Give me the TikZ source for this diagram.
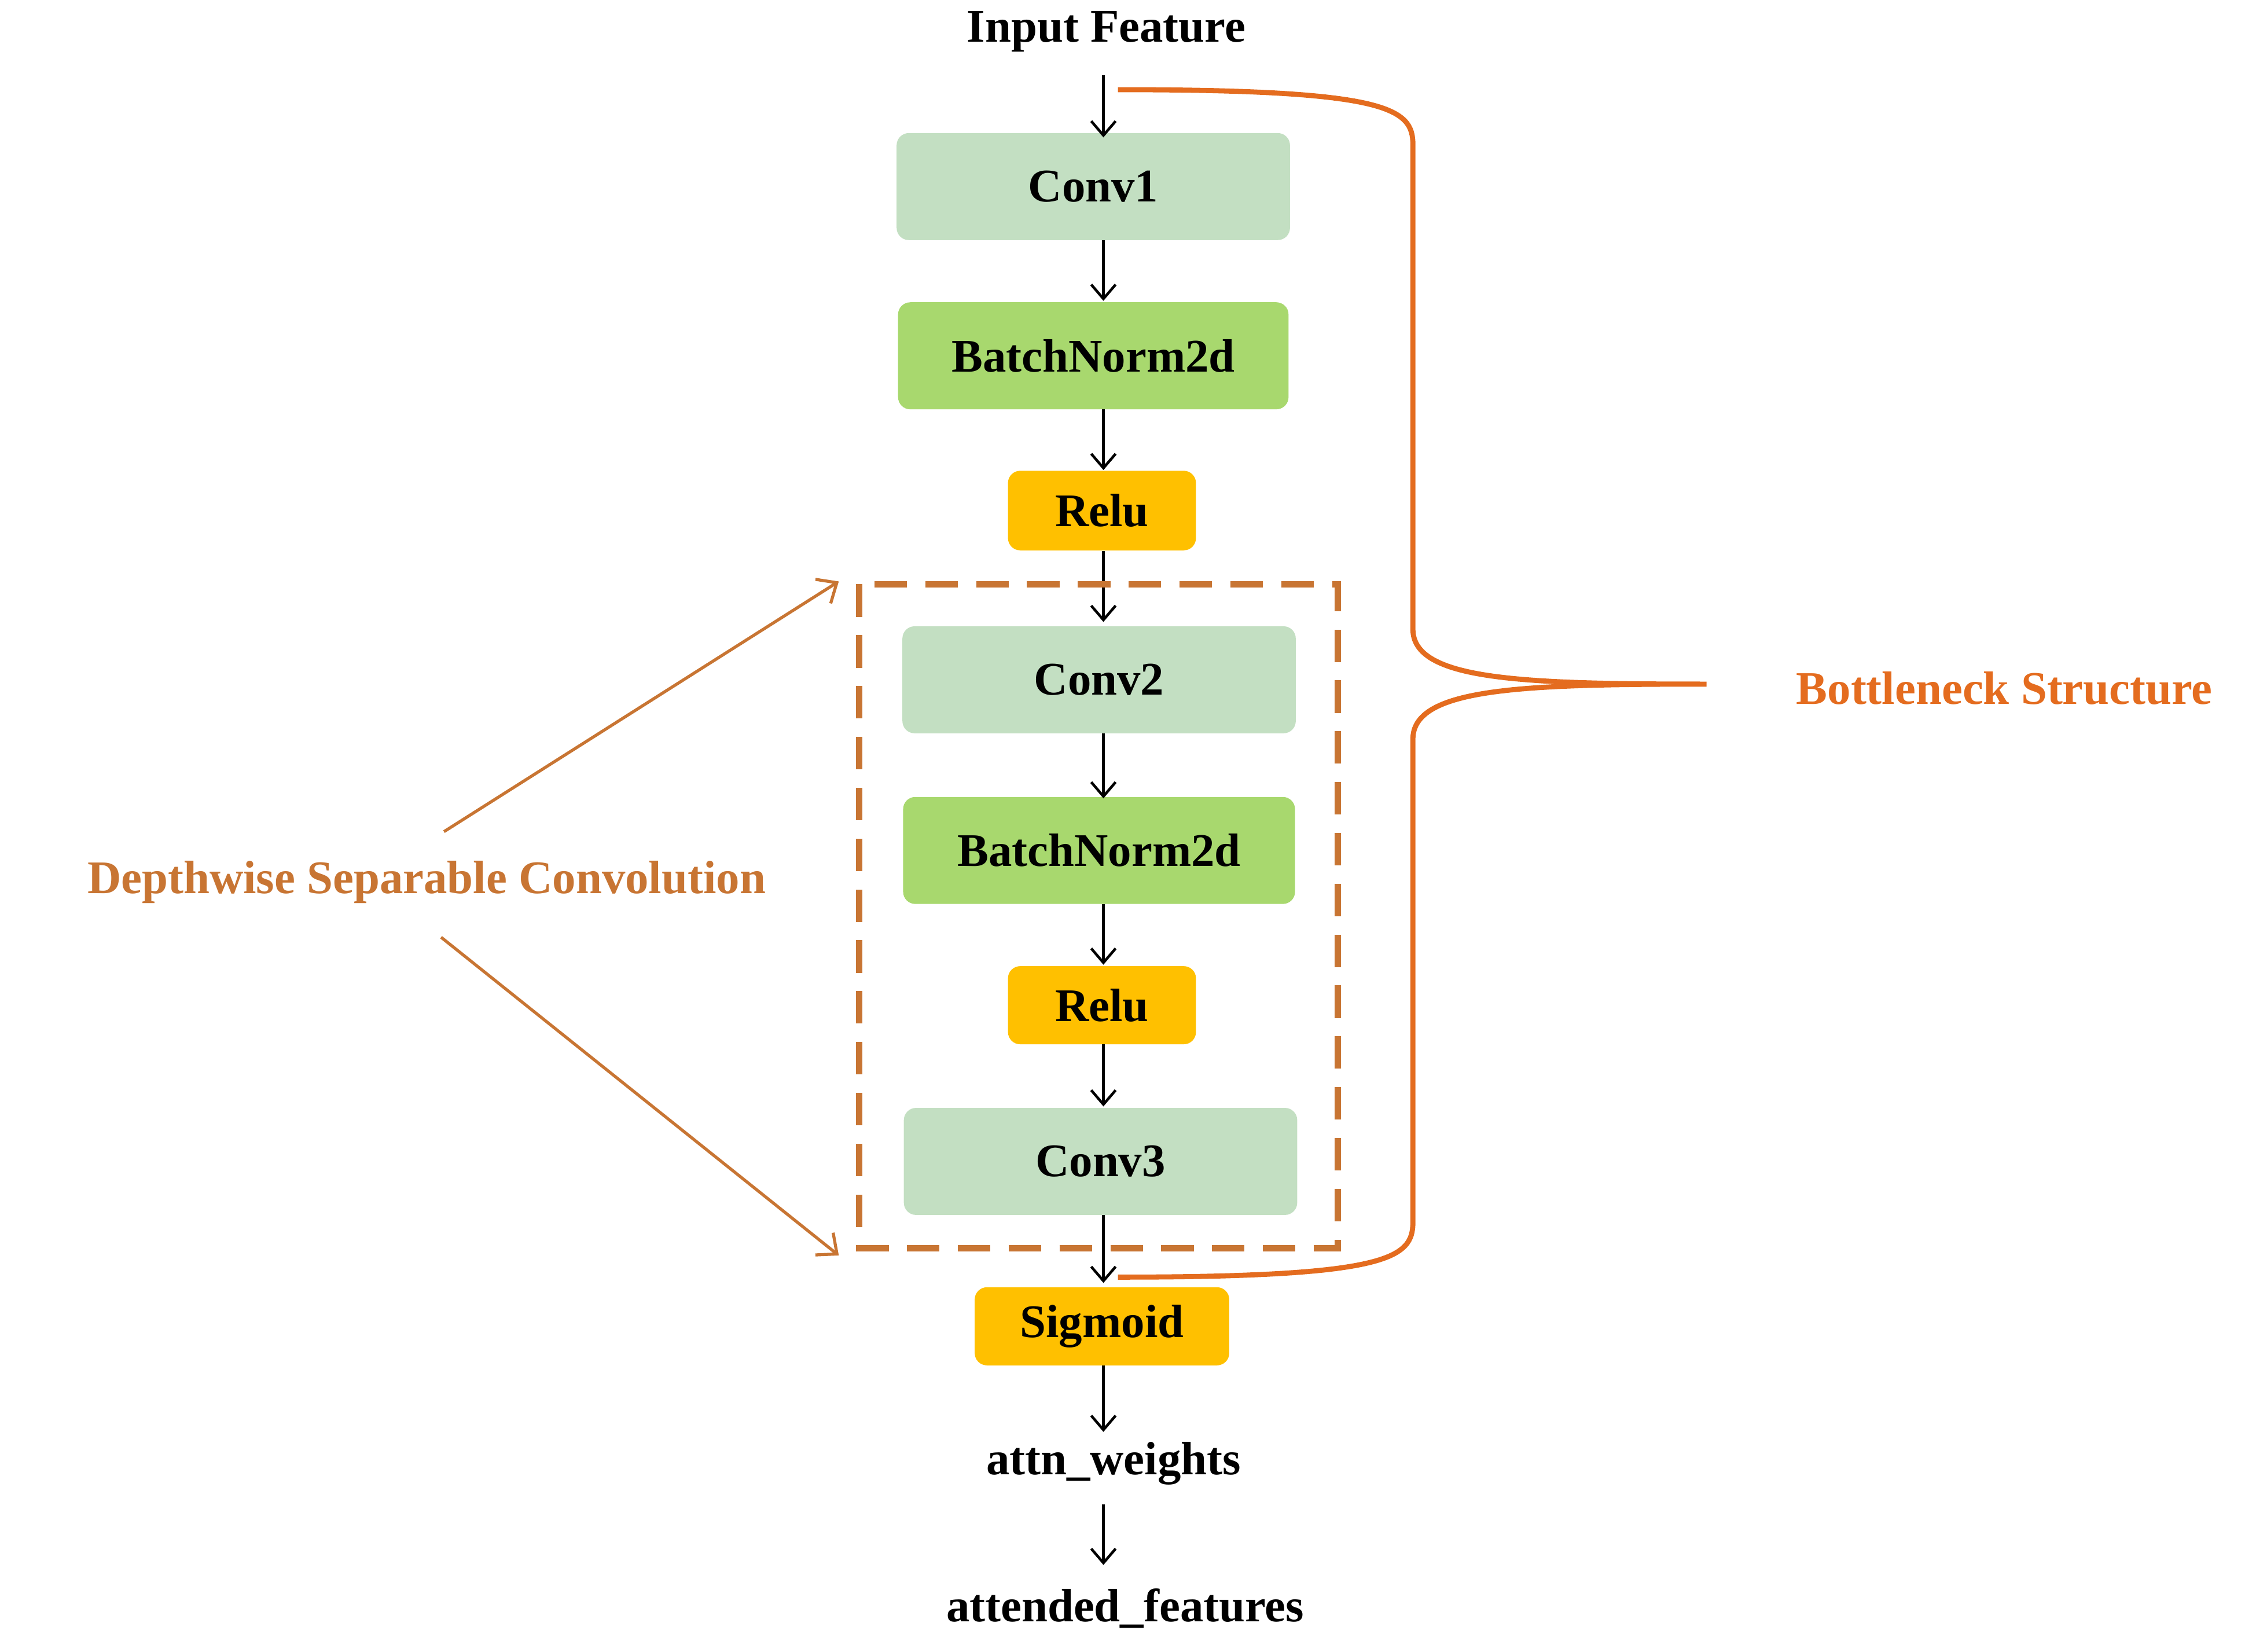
\documentclass[tikz,border=0pt]{standalone}
\usepackage{fontspec}
\setmainfont{Liberation Serif}
\usetikzlibrary{arrows.meta}
\definecolor{cgreen}{HTML}{C3DFC2}
\definecolor{bgreen}{HTML}{A8D86E}
\definecolor{ryel}{HTML}{FFC000}
\definecolor{dorange}{HTML}{C87533}
\definecolor{borange}{HTML}{E46C1F}
\begin{document}
\begin{tikzpicture}[x=0.025cm,y=-0.025cm,
  every node/.style={font=\fontsize{23}{27}\selectfont\bfseries},
  box/.style={rounded corners=6pt,inner sep=0pt},
  arr/.style={-{Straight Barb[length=7pt,width=12pt]},line width=1.3pt,black}]
\useasboundingbox (0,0) rectangle (1560,1142);
\node (in) at (765,22) {Input Feature};
\node[box,fill=cgreen,minimum width=272*0.025cm,minimum height=74*0.025cm] (c1) at (756,129) {Conv1};
\node[box,fill=bgreen,minimum width=270*0.025cm,minimum height=74*0.025cm] (b1) at (756,246) {BatchNorm2d};
\node[box,fill=ryel,minimum width=130*0.025cm,minimum height=55*0.025cm] (r1) at (762,353) {Relu};
\node[box,fill=cgreen,minimum width=272*0.025cm,minimum height=74*0.025cm] (c2) at (760,470) {Conv2};
\node[box,fill=bgreen,minimum width=271*0.025cm,minimum height=74*0.025cm] (b2) at (760,588) {BatchNorm2d};
\node[box,fill=ryel,minimum width=130*0.025cm,minimum height=54*0.025cm] (r2) at (762,695) {Relu};
\node[box,fill=cgreen,minimum width=272*0.025cm,minimum height=74*0.025cm] (c3) at (761,803) {Conv3};
\node[box,fill=ryel,minimum width=176*0.025cm,minimum height=54*0.025cm] (sg) at (762,917) {Sigmoid};
\node (aw) at (770,1012) {attn\_weights};
\node (af) at (778,1112) {attended\_features};
\coordinate (t0) at (763,52);
\draw[arr] (t0) -- (763,95);
\draw[arr] (763,166) -- (763,208);
\draw[arr] (763,283) -- (763,325);
\draw[arr] (763,381) -- (763,430);
\draw[arr] (763,507) -- (763,552);
\draw[arr] (763,625) -- (763,667);
\draw[arr] (763,722) -- (763,765);
\draw[arr] (763,840) -- (763,887);
\draw[arr] (763,944) -- (763,990);
\draw[arr] (763,1040) -- (763,1082);
\draw[dorange,line width=3pt,dash pattern=on 16pt off 9pt] (594,404) rectangle (925,863);
\draw[borange,line width=2.5pt] (773,62) .. controls (960,62) and (977,75) .. (977,100)
  -- (977,435) .. controls (977,470) and (1050,473) .. (1180,473)
  .. controls (1050,473) and (977,476) .. (977,511)
  -- (977,845) .. controls (977,870) and (960,883) .. (773,883);
\node[text=borange] (bs) at (1386,476) {Bottleneck Structure};
\node[text=dorange] (ds) at (295,610) {Depthwise Separable Convolution};
\draw[dorange,line width=1.5pt,-{Straight Barb[length=8pt,width=14pt]}] (307,575) -- (580,402);
\draw[dorange,line width=1.5pt,-{Straight Barb[length=8pt,width=14pt]}] (305,648) -- (580,868);
\end{tikzpicture}
\end{document}
